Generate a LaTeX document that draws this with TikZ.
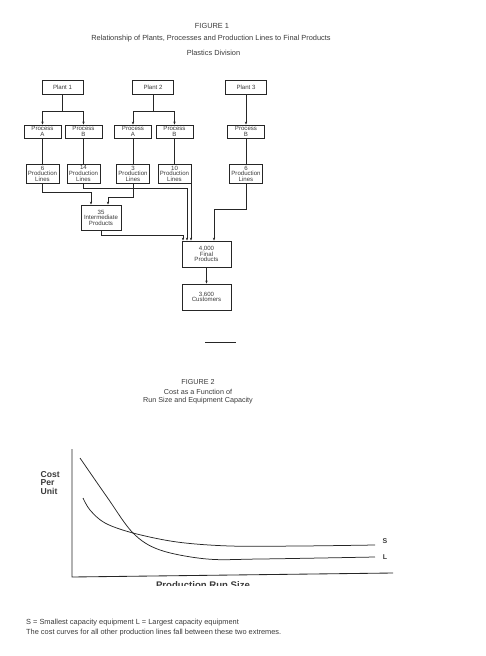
\documentclass[tikz,border=0pt]{standalone}
\usepackage{fontspec}
\setmainfont{Liberation Sans}
\usetikzlibrary{arrows.meta,calc}
\definecolor{ink}{HTML}{262626}
\definecolor{txt}{HTML}{3A3A3A}
\begin{document}
\begin{tikzpicture}[x=1pt,y=-1pt,
  box/.style={draw=ink, line width=0.9pt, inner sep=0pt, align=center, text=txt,
    font=\fontsize{6.1}{5.6}\selectfont},
  plantbox/.style={box, minimum width=41pt, minimum height=14pt},
  procbox/.style={box, minimum width=37pt, minimum height=13pt},
  linebox/.style={box, minimum width=33pt, minimum height=19pt},
  bigbox/.style={box, minimum width=49pt, minimum height=26pt},
  link/.style={draw=ink, line width=0.65pt},
  arr/.style={link, -{Stealth[length=3pt,width=2.4pt]}},
  ttl/.style={text=txt, inner sep=0pt, font=\fontsize{7.4}{8}\selectfont},
  curve/.style={draw=ink, line width=0.75pt}
]
\useasboundingbox (0,0) rectangle (485,656);

% ---------- Figure 1 titles
\node[ttl] (t1) at (212,26) {FIGURE 1};
\node[ttl] (t2) at (211,39) {Relationship of Plants, Processes and Production Lines to Final Products};
\node[ttl] (t3) at (213.5,53) {Plastics Division};

% ---------- Plants
\node[plantbox] (p1) at (62.5,87) {Plant 1};
\node[plantbox] (p2) at (153,87) {Plant 2};
\node[plantbox] (p3) at (246,87) {Plant 3};

% ---------- Processes
\node[procbox] (pr1a) at (42.5,131.5) {Process\\A};
\node[procbox] (pr1b) at (83.5,131.5) {Process\\B};
\node[procbox] (pr2a) at (133,131.5) {Process\\A};
\node[procbox] (pr2b) at (174.5,131.5) {Process\\B};
\node[procbox] (pr3b) at (246,131.5) {Process\\B};

% ---------- Production lines
\node[linebox] (pl1) at (42.5,173.5) {6\\Production\\Lines};
\node[linebox] (pl2) at (83.5,173.5) {14\\Production\\Lines};
\node[linebox] (pl3) at (133,173.5) {3\\Production\\Lines};
\node[linebox] (pl4) at (174.5,173.5) {10\\Production\\Lines};
\node[linebox] (pl5) at (246,173.5) {6\\Production\\Lines};

% ---------- Products and customers
\node[box, minimum width=40pt, minimum height=25pt] (inter) at (101,217.5) {35\\Intermediate\\Products};
\node[bigbox] (final) at (206.5,254) {4,000\\Final\\Products};
\node[bigbox] (cust) at (206.5,297) {3,600\\Customers};

% ---------- Plant -> process connectors
\draw[link] (p1.south) -- ++(0,17) coordinate (j1);
\draw[arr] (j1) -| (pr1a.north);
\draw[arr] (j1) -| (pr1b.north);
\draw[link] (p2.south) -- ++(0,17) coordinate (j2);
\draw[arr] (j2) -| (pr2a.north);
\draw[arr] (j2) -| (pr2b.north);
\draw[arr] (p3.south) -- (pr3b.north);

% ---------- Process -> production lines
\draw[link] (pr1a.south) -- (pl1.north);
\draw[link] (pr1b.south) -- (pl2.north);
\draw[link] (pr2a.south) -- (pl3.north);
\draw[link] (pr2b.south) -- (pl4.north);
\draw[link] (pr3b.south) -- (pl5.north);

% ---------- Production lines -> intermediate / final
\draw[arr] (pl1.south) -- ++(0,9) -| ([xshift=-10pt]inter.north);
\draw[arr] (pl3.south) -- ++(0,14) -| ([xshift=7pt]inter.north);
\draw[arr] (pl2.south) -- ++(0,5) -| ([xshift=-19.5pt]final.north);
\draw[arr] ([xshift=16.5pt]pl4.south) -- ([xshift=16.5pt]pl4.south |- final.north);
\draw[arr] (inter.south) -- ++(0,5) -| ([xshift=-23.5pt]final.north);
\draw[arr] (pl5.south) -- ++(0,26) -| ([xshift=7.5pt]final.north);
\draw[arr] (final.south) -- (cust.north);

% ---------- separator
\draw[ink, line width=0.5pt] (205,342) -- (236,342);

% ---------- Figure 2 titles
\node[ttl, font=\fontsize{7.2}{8}\selectfont] (f2a) at (198,382) {FIGURE 2};
\node[ttl, font=\fontsize{7.2}{8}\selectfont] (f2b) at (198,392) {Cost as a Function of};
\node[ttl, font=\fontsize{7.2}{8}\selectfont] (f2c) at (198,400.5) {Run Size and Equipment Capacity};

% ---------- Graph axes
\coordinate (ytop) at (72,449);
\coordinate (orig) at (72,577);
\coordinate (xend) at (393,573);
\draw[curve, line width=0.85pt] (ytop) -- (orig) -- (xend);

\node[text=txt, inner sep=0pt, anchor=north west, align=left,
  font=\fontsize{8.6}{8.4}\selectfont\bfseries] (ylab) at (40.5,471) {Cost\\Per\\Unit};

% ---------- Curves
\draw[curve] plot[smooth, tension=0.55] coordinates
  {(80,458) (107,497) (133,533) (160,550) (207,559) (260,559) (375,557)};
\draw[curve] plot[smooth, tension=0.55] coordinates
  {(83,498) (90,510) (105,523) (133,533) (177,542) (230,546) (300,546) (375,545)};
\node[text=txt, inner sep=0pt, font=\fontsize{7}{8}\selectfont\bfseries] (lS) at (385,541.5) {S};
\node[text=txt, inner sep=0pt, font=\fontsize{7}{8}\selectfont\bfseries] (lL) at (385,557.5) {L};

% ---------- x-axis label (cut off at the bottom, as in the source)
\begin{scope}
  \clip (0,0) rectangle (485,585.5);
  \node[text=txt, inner sep=0pt, anchor=base, font=\fontsize{9.6}{10}\selectfont\bfseries] (xlab) at (203,588) {Production Run Size};
\end{scope}

% ---------- Footnote
\node[ttl, anchor=west] (n1) at (26,623) {S {=} Smallest capacity equipment L {=} Largest capacity equipment};
\node[ttl, anchor=west] (n2) at (26,633) {The cost curves for all other production lines fall between these two extremes.};
\end{tikzpicture}
\end{document}
